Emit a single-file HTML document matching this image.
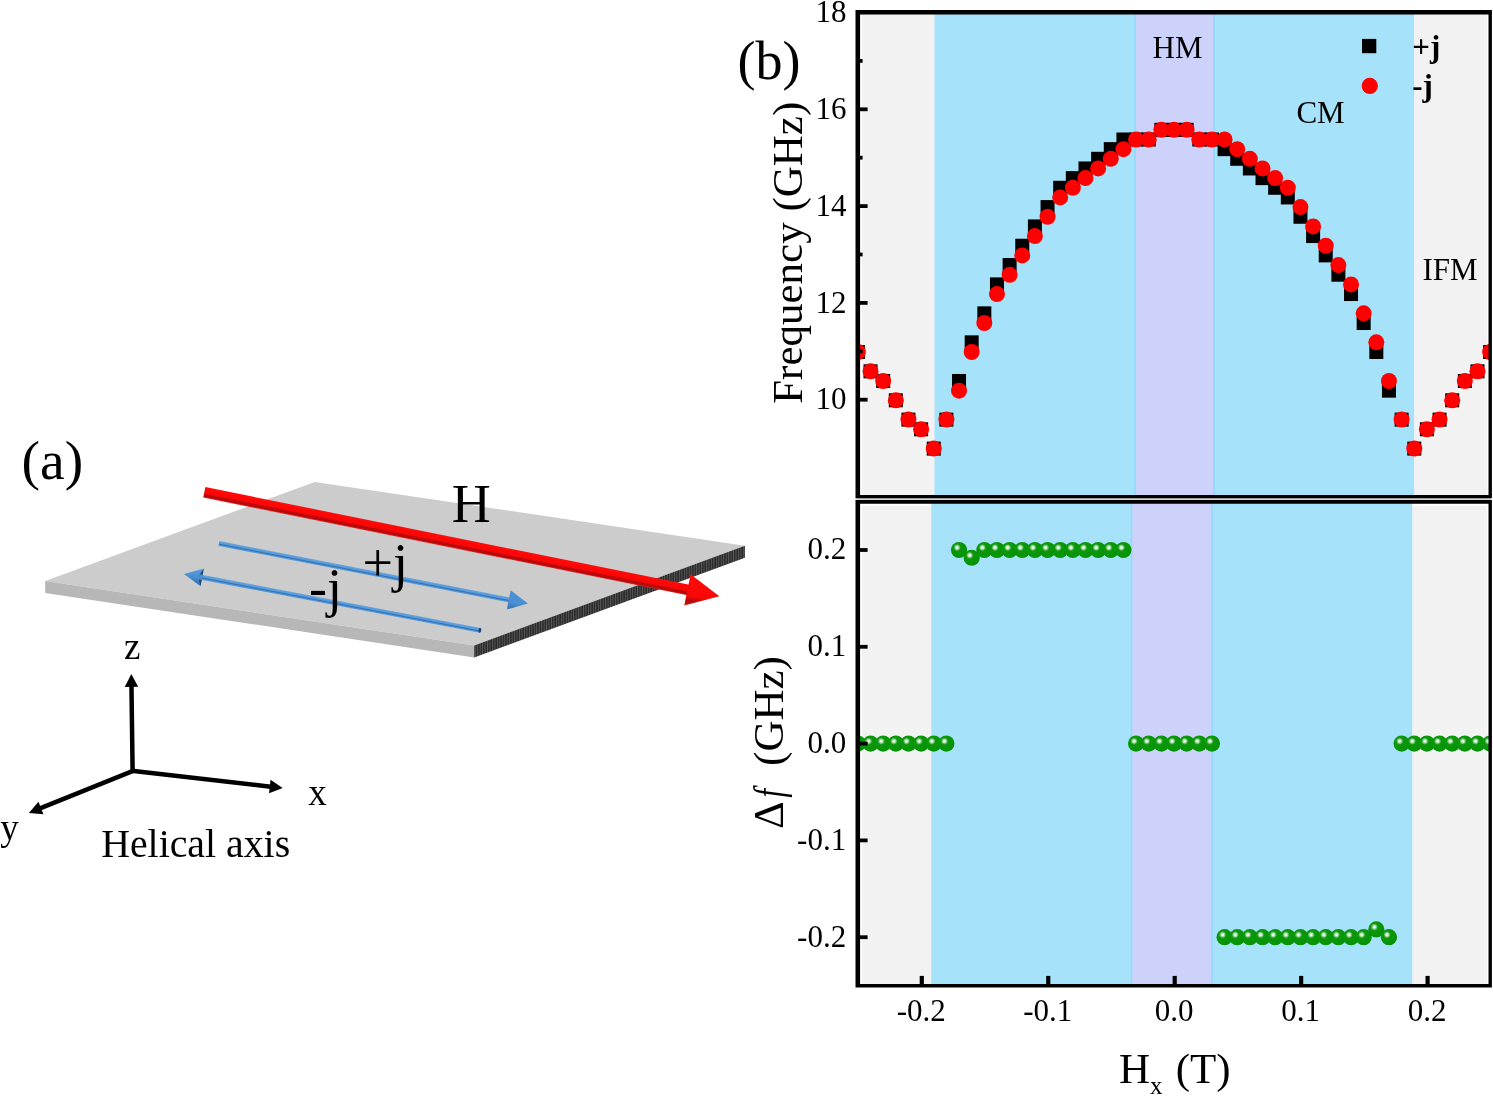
<!DOCTYPE html>
<html lang="en"><head><meta charset="utf-8"><title>Figure</title>
<style>html,body{margin:0;padding:0;background:#fff;}svg{display:block;}text{font-family:"Liberation Serif","Times New Roman",serif;fill:#000;}</style>
</head><body>
<svg width="1493" height="1096" viewBox="0 0 1493 1096">
<defs>
<radialGradient id="gs" cx="0.38" cy="0.35" r="0.62" fx="0.38" fy="0.35"><stop offset="0" stop-color="#ffffff"/><stop offset="0.09" stop-color="#eaf7ea"/><stop offset="0.36" stop-color="#0b980b"/><stop offset="1" stop-color="#069206"/></radialGradient>
<pattern id="stripe" width="2.46" height="20" patternUnits="userSpaceOnUse"><rect width="2.46" height="20" fill="#2a2a2a"/><rect x="0" width="0.95" height="20" fill="#585858"/></pattern>
<linearGradient id="redsh" x1="0" y1="0" x2="0" y2="1"><stop offset="0" stop-color="#ff0a0a"/><stop offset="0.55" stop-color="#ff0505"/><stop offset="0.72" stop-color="#b80c0c"/><stop offset="0.86" stop-color="#b00a0a"/><stop offset="1" stop-color="#f01c1c"/></linearGradient>
<linearGradient id="redhd" x1="0" y1="0" x2="0" y2="1"><stop offset="0" stop-color="#ff0a0a"/><stop offset="0.66" stop-color="#f80808"/><stop offset="0.82" stop-color="#b40c0c"/><stop offset="0.93" stop-color="#c81010"/><stop offset="1" stop-color="#ff1414"/></linearGradient>
<linearGradient id="bluesh" x1="0" y1="0" x2="0" y2="1"><stop offset="0" stop-color="#66a6e0"/><stop offset="0.42" stop-color="#5699d8"/><stop offset="0.62" stop-color="#3471b2"/><stop offset="0.8" stop-color="#4d91d3"/><stop offset="1" stop-color="#5fa1dc"/></linearGradient>
<linearGradient id="bluehd" x1="0" y1="0" x2="0" y2="1"><stop offset="0" stop-color="#4a8fd1"/><stop offset="0.6" stop-color="#4a90d2"/><stop offset="0.85" stop-color="#3877ba"/><stop offset="1" stop-color="#4a8cd0"/></linearGradient>
<linearGradient id="bluesh2" x1="0" y1="1" x2="0" y2="0"><stop offset="0" stop-color="#66a6e0"/><stop offset="0.42" stop-color="#5699d8"/><stop offset="0.62" stop-color="#3471b2"/><stop offset="0.8" stop-color="#4d91d3"/><stop offset="1" stop-color="#5fa1dc"/></linearGradient>
<linearGradient id="bluehd2" x1="0" y1="1" x2="0" y2="0"><stop offset="0" stop-color="#5aa0e0"/><stop offset="0.55" stop-color="#4a90d2"/><stop offset="0.85" stop-color="#3877ba"/><stop offset="1" stop-color="#3f7fc2"/></linearGradient>
<clipPath id="c1"><rect x="857.8" y="12.3" width="632.6000000000001" height="484.4"/></clipPath>
<clipPath id="c2"><rect x="857.8" y="502.6" width="632.6000000000001" height="483.1"/></clipPath>
</defs>
<rect width="1493" height="1096" fill="#ffffff"/>
<g id="schematic">
<polygon points="45.2,581.1 314.8,481.9 744.9,545.7 474.2,645.4" fill="#cccccc"/>
<polygon points="45.2,581.1 474.2,645.4 474.2,657.4 45.2,593.0" fill="#b7b7b7"/>
<polygon points="474.2,645.4 744.9,545.7 744.9,557.7 474.2,657.4" fill="url(#stripe)"/>
<g transform="translate(218.9,543.5) rotate(11.007)"><rect x="0" y="-2.5" width="296.29" height="5.0" fill="url(#bluesh)"/><polygon points="295.29,-9.9 314.79,0 295.29,9.9" fill="url(#bluehd)"/></g>
<g transform="translate(480.2,630.4) rotate(-169.201)"><rect x="0" y="-2.5" width="284.04" height="5.0" fill="url(#bluesh2)"/><polygon points="283.04,-8.95 301.54,0 283.04,8.95" fill="url(#bluehd2)"/><ellipse cx="0.3" cy="0" rx="1.4" ry="2.5" fill="#1d4470"/><path d="M283.04,-8.9 Q289.04,0 283.04,8.9 Z" fill="#1f4872"/><rect x="282.54" y="-2.5" width="3.6" height="5" fill="#4a8fd1"/></g>
<g transform="translate(204.3,492.3) rotate(11.417)"><rect x="0" y="-5.3" width="493.90" height="10.6" fill="url(#redsh)"/><polygon points="492.90,-16.0 525.40,0 492.90,16.0" fill="url(#redhd)"/></g>
<text x="21.6" y="478.9" font-size="55.5">(a)</text>
<text x="451.8" y="522.2" font-size="54">H</text>
<text x="362.6" y="581" font-size="54">+j</text>
<text x="309" y="606.3" font-size="54">-j</text>
<g transform="translate(132.6,771.0) rotate(-90.767)"><rect x="-1" y="-2.25" width="86.11" height="4.5" fill="#000"/><polygon points="84.11,-6.7 97.11,0 84.11,6.7" fill="#000"/></g>
<g transform="translate(132.6,770.9) rotate(6.499)"><rect x="-1" y="-2.25" width="140.07" height="4.5" fill="#000"/><polygon points="138.07,-6.7 151.07,0 138.07,6.7" fill="#000"/></g>
<g transform="translate(132.8,771.0) rotate(158.037)"><rect x="-1" y="-2.25" width="101.03" height="4.5" fill="#000"/><polygon points="99.03,-6.7 112.03,0 99.03,6.7" fill="#000"/></g>
<text x="124" y="658.6" font-size="37">z</text>
<text x="308.2" y="804.5" font-size="37">x</text>
<text x="0.3" y="839.7" font-size="37">y</text>
<text x="101.2" y="857" font-size="39.8">Helical axis</text>
</g>
<g id="panel-top">
<rect x="862" y="12.3" width="625" height="484.4" fill="#f2f2f2"/>
<rect x="934.5" y="12.3" width="479.5999999999999" height="484.4" fill="#a6e3fa"/>
<rect x="1134.2" y="12.3" width="80.79999999999991" height="484.4" fill="#93d9fb"/>
<rect x="1135.7" y="12.3" width="77.59999999999991" height="484.4" fill="#cdd2fb"/>
</g>
<g id="panel-bottom">
<rect x="862" y="506.0" width="625" height="479.70000000000005" fill="#f2f2f2"/>
<rect x="931.3" y="502.6" width="480.9000000000001" height="483.1" fill="#a6e3fa"/>
<rect x="1130.8" y="502.6" width="82.30000000000014" height="483.1" fill="#93d9fb"/>
<rect x="1132.3" y="502.6" width="79.10000000000014" height="483.1" fill="#cdd2fb"/>
</g>
<g id="pts-top" clip-path="url(#c1)">
<rect x="850.88" y="345.00" width="14" height="14" fill="#000"/>
<rect x="863.52" y="364.32" width="14" height="14" fill="#000"/>
<rect x="876.16" y="373.98" width="14" height="14" fill="#000"/>
<rect x="888.81" y="393.30" width="14" height="14" fill="#000"/>
<rect x="901.45" y="412.62" width="14" height="14" fill="#000"/>
<rect x="914.10" y="422.28" width="14" height="14" fill="#000"/>
<rect x="926.75" y="441.60" width="14" height="14" fill="#000"/>
<rect x="939.39" y="412.62" width="14" height="14" fill="#000"/>
<rect x="952.03" y="373.98" width="14" height="14" fill="#000"/>
<rect x="964.68" y="335.34" width="14" height="14" fill="#000"/>
<rect x="977.33" y="306.36" width="14" height="14" fill="#000"/>
<rect x="989.97" y="277.38" width="14" height="14" fill="#000"/>
<rect x="1002.62" y="258.06" width="14" height="14" fill="#000"/>
<rect x="1015.26" y="238.74" width="14" height="14" fill="#000"/>
<rect x="1027.90" y="219.42" width="14" height="14" fill="#000"/>
<rect x="1040.55" y="200.10" width="14" height="14" fill="#000"/>
<rect x="1053.19" y="180.78" width="14" height="14" fill="#000"/>
<rect x="1065.84" y="171.12" width="14" height="14" fill="#000"/>
<rect x="1078.48" y="161.46" width="14" height="14" fill="#000"/>
<rect x="1091.13" y="151.80" width="14" height="14" fill="#000"/>
<rect x="1103.78" y="142.14" width="14" height="14" fill="#000"/>
<rect x="1116.42" y="132.48" width="14" height="14" fill="#000"/>
<rect x="1129.07" y="132.48" width="14" height="14" fill="#000"/>
<rect x="1141.71" y="132.48" width="14" height="14" fill="#000"/>
<rect x="1154.36" y="122.82" width="14" height="14" fill="#000"/>
<rect x="1167.00" y="122.82" width="14" height="14" fill="#000"/>
<rect x="1179.64" y="122.82" width="14" height="14" fill="#000"/>
<rect x="1192.29" y="132.48" width="14" height="14" fill="#000"/>
<rect x="1204.93" y="132.48" width="14" height="14" fill="#000"/>
<rect x="1217.58" y="142.14" width="14" height="14" fill="#000"/>
<rect x="1230.22" y="151.80" width="14" height="14" fill="#000"/>
<rect x="1242.87" y="161.46" width="14" height="14" fill="#000"/>
<rect x="1255.52" y="171.12" width="14" height="14" fill="#000"/>
<rect x="1268.16" y="180.78" width="14" height="14" fill="#000"/>
<rect x="1280.81" y="190.44" width="14" height="14" fill="#000"/>
<rect x="1293.45" y="209.76" width="14" height="14" fill="#000"/>
<rect x="1306.10" y="229.08" width="14" height="14" fill="#000"/>
<rect x="1318.74" y="248.40" width="14" height="14" fill="#000"/>
<rect x="1331.38" y="267.72" width="14" height="14" fill="#000"/>
<rect x="1344.03" y="287.04" width="14" height="14" fill="#000"/>
<rect x="1356.67" y="316.02" width="14" height="14" fill="#000"/>
<rect x="1369.32" y="345.00" width="14" height="14" fill="#000"/>
<rect x="1381.96" y="383.64" width="14" height="14" fill="#000"/>
<rect x="1394.61" y="412.62" width="14" height="14" fill="#000"/>
<rect x="1407.26" y="441.60" width="14" height="14" fill="#000"/>
<rect x="1419.90" y="422.28" width="14" height="14" fill="#000"/>
<rect x="1432.55" y="412.62" width="14" height="14" fill="#000"/>
<rect x="1445.19" y="393.30" width="14" height="14" fill="#000"/>
<rect x="1457.84" y="373.98" width="14" height="14" fill="#000"/>
<rect x="1470.48" y="364.32" width="14" height="14" fill="#000"/>
<rect x="1483.12" y="345.00" width="14" height="14" fill="#000"/>
<circle cx="857.88" cy="352.00" r="8" fill="#ff0000"/>
<circle cx="870.52" cy="371.32" r="8" fill="#ff0000"/>
<circle cx="883.16" cy="380.98" r="8" fill="#ff0000"/>
<circle cx="895.81" cy="400.30" r="8" fill="#ff0000"/>
<circle cx="908.45" cy="419.62" r="8" fill="#ff0000"/>
<circle cx="921.10" cy="429.28" r="8" fill="#ff0000"/>
<circle cx="933.75" cy="448.60" r="8" fill="#ff0000"/>
<circle cx="946.39" cy="419.62" r="8" fill="#ff0000"/>
<circle cx="959.03" cy="390.64" r="8" fill="#ff0000"/>
<circle cx="971.68" cy="352.00" r="8" fill="#ff0000"/>
<circle cx="984.33" cy="323.02" r="8" fill="#ff0000"/>
<circle cx="996.97" cy="294.04" r="8" fill="#ff0000"/>
<circle cx="1009.62" cy="274.72" r="8" fill="#ff0000"/>
<circle cx="1022.26" cy="255.40" r="8" fill="#ff0000"/>
<circle cx="1034.90" cy="236.08" r="8" fill="#ff0000"/>
<circle cx="1047.55" cy="216.76" r="8" fill="#ff0000"/>
<circle cx="1060.19" cy="197.44" r="8" fill="#ff0000"/>
<circle cx="1072.84" cy="187.78" r="8" fill="#ff0000"/>
<circle cx="1085.48" cy="178.12" r="8" fill="#ff0000"/>
<circle cx="1098.13" cy="168.46" r="8" fill="#ff0000"/>
<circle cx="1110.78" cy="158.80" r="8" fill="#ff0000"/>
<circle cx="1123.42" cy="149.14" r="8" fill="#ff0000"/>
<circle cx="1136.07" cy="139.48" r="8" fill="#ff0000"/>
<circle cx="1148.71" cy="139.48" r="8" fill="#ff0000"/>
<circle cx="1161.36" cy="129.82" r="8" fill="#ff0000"/>
<circle cx="1174.00" cy="129.82" r="8" fill="#ff0000"/>
<circle cx="1186.64" cy="129.82" r="8" fill="#ff0000"/>
<circle cx="1199.29" cy="139.48" r="8" fill="#ff0000"/>
<circle cx="1211.93" cy="139.48" r="8" fill="#ff0000"/>
<circle cx="1224.58" cy="139.48" r="8" fill="#ff0000"/>
<circle cx="1237.22" cy="149.14" r="8" fill="#ff0000"/>
<circle cx="1249.87" cy="158.80" r="8" fill="#ff0000"/>
<circle cx="1262.52" cy="168.46" r="8" fill="#ff0000"/>
<circle cx="1275.16" cy="178.12" r="8" fill="#ff0000"/>
<circle cx="1287.81" cy="187.78" r="8" fill="#ff0000"/>
<circle cx="1300.45" cy="207.10" r="8" fill="#ff0000"/>
<circle cx="1313.10" cy="226.42" r="8" fill="#ff0000"/>
<circle cx="1325.74" cy="245.74" r="8" fill="#ff0000"/>
<circle cx="1338.38" cy="265.06" r="8" fill="#ff0000"/>
<circle cx="1351.03" cy="284.38" r="8" fill="#ff0000"/>
<circle cx="1363.67" cy="313.36" r="8" fill="#ff0000"/>
<circle cx="1376.32" cy="342.34" r="8" fill="#ff0000"/>
<circle cx="1388.96" cy="380.98" r="8" fill="#ff0000"/>
<circle cx="1401.61" cy="419.62" r="8" fill="#ff0000"/>
<circle cx="1414.26" cy="448.60" r="8" fill="#ff0000"/>
<circle cx="1426.90" cy="429.28" r="8" fill="#ff0000"/>
<circle cx="1439.55" cy="419.62" r="8" fill="#ff0000"/>
<circle cx="1452.19" cy="400.30" r="8" fill="#ff0000"/>
<circle cx="1464.84" cy="380.98" r="8" fill="#ff0000"/>
<circle cx="1477.48" cy="371.32" r="8" fill="#ff0000"/>
<circle cx="1490.12" cy="352.00" r="8" fill="#ff0000"/>
</g>
<g id="pts-bottom" clip-path="url(#c2)">
<circle cx="857.88" cy="743.60" r="8.1" fill="url(#gs)"/>
<circle cx="870.52" cy="743.60" r="8.1" fill="url(#gs)"/>
<circle cx="883.16" cy="743.60" r="8.1" fill="url(#gs)"/>
<circle cx="895.81" cy="743.60" r="8.1" fill="url(#gs)"/>
<circle cx="908.45" cy="743.60" r="8.1" fill="url(#gs)"/>
<circle cx="921.10" cy="743.60" r="8.1" fill="url(#gs)"/>
<circle cx="933.75" cy="743.60" r="8.1" fill="url(#gs)"/>
<circle cx="946.39" cy="743.60" r="8.1" fill="url(#gs)"/>
<circle cx="959.03" cy="550.00" r="8.1" fill="url(#gs)"/>
<circle cx="971.68" cy="557.74" r="8.1" fill="url(#gs)"/>
<circle cx="984.33" cy="550.00" r="8.1" fill="url(#gs)"/>
<circle cx="996.97" cy="550.00" r="8.1" fill="url(#gs)"/>
<circle cx="1009.62" cy="550.00" r="8.1" fill="url(#gs)"/>
<circle cx="1022.26" cy="550.00" r="8.1" fill="url(#gs)"/>
<circle cx="1034.90" cy="550.00" r="8.1" fill="url(#gs)"/>
<circle cx="1047.55" cy="550.00" r="8.1" fill="url(#gs)"/>
<circle cx="1060.19" cy="550.00" r="8.1" fill="url(#gs)"/>
<circle cx="1072.84" cy="550.00" r="8.1" fill="url(#gs)"/>
<circle cx="1085.48" cy="550.00" r="8.1" fill="url(#gs)"/>
<circle cx="1098.13" cy="550.00" r="8.1" fill="url(#gs)"/>
<circle cx="1110.78" cy="550.00" r="8.1" fill="url(#gs)"/>
<circle cx="1123.42" cy="550.00" r="8.1" fill="url(#gs)"/>
<circle cx="1136.07" cy="743.60" r="8.1" fill="url(#gs)"/>
<circle cx="1148.71" cy="743.60" r="8.1" fill="url(#gs)"/>
<circle cx="1161.36" cy="743.60" r="8.1" fill="url(#gs)"/>
<circle cx="1174.00" cy="743.60" r="8.1" fill="url(#gs)"/>
<circle cx="1186.64" cy="743.60" r="8.1" fill="url(#gs)"/>
<circle cx="1199.29" cy="743.60" r="8.1" fill="url(#gs)"/>
<circle cx="1211.93" cy="743.60" r="8.1" fill="url(#gs)"/>
<circle cx="1224.58" cy="937.20" r="8.1" fill="url(#gs)"/>
<circle cx="1237.22" cy="937.20" r="8.1" fill="url(#gs)"/>
<circle cx="1249.87" cy="937.20" r="8.1" fill="url(#gs)"/>
<circle cx="1262.52" cy="937.20" r="8.1" fill="url(#gs)"/>
<circle cx="1275.16" cy="937.20" r="8.1" fill="url(#gs)"/>
<circle cx="1287.81" cy="937.20" r="8.1" fill="url(#gs)"/>
<circle cx="1300.45" cy="937.20" r="8.1" fill="url(#gs)"/>
<circle cx="1313.10" cy="937.20" r="8.1" fill="url(#gs)"/>
<circle cx="1325.74" cy="937.20" r="8.1" fill="url(#gs)"/>
<circle cx="1338.38" cy="937.20" r="8.1" fill="url(#gs)"/>
<circle cx="1351.03" cy="937.20" r="8.1" fill="url(#gs)"/>
<circle cx="1363.67" cy="937.20" r="8.1" fill="url(#gs)"/>
<circle cx="1376.32" cy="929.46" r="8.1" fill="url(#gs)"/>
<circle cx="1388.96" cy="937.20" r="8.1" fill="url(#gs)"/>
<circle cx="1401.61" cy="743.60" r="8.1" fill="url(#gs)"/>
<circle cx="1414.26" cy="743.60" r="8.1" fill="url(#gs)"/>
<circle cx="1426.90" cy="743.60" r="8.1" fill="url(#gs)"/>
<circle cx="1439.55" cy="743.60" r="8.1" fill="url(#gs)"/>
<circle cx="1452.19" cy="743.60" r="8.1" fill="url(#gs)"/>
<circle cx="1464.84" cy="743.60" r="8.1" fill="url(#gs)"/>
<circle cx="1477.48" cy="743.60" r="8.1" fill="url(#gs)"/>
<circle cx="1490.12" cy="743.60" r="8.1" fill="url(#gs)"/>
</g>
<g id="legend">
<rect x="1362" y="38.9" width="14.3" height="14.3" fill="#000"/>
<circle cx="1369.8" cy="85.9" r="8.1" fill="#ff0000"/>
<text x="1412.3" y="57" font-size="31" font-weight="bold">+j</text>
<text x="1412.2" y="96" font-size="31" font-weight="bold">-j</text>
<text x="1152.5" y="57.7" font-size="31">HM</text>
<text x="1296.4" y="123.3" font-size="31">CM</text>
<text x="1422.4" y="280.3" font-size="31">IFM</text>
</g>
<g id="axes" stroke="#000" fill="none" stroke-linecap="butt">
<rect x="856.5" y="498" width="634.5" height="2.2" fill="#d2d2d2" stroke="none"/>
<path fill="#000" stroke="none" fill-rule="evenodd" d="M855.5,10.05H1491.9V498.2H855.5Z M860.1,14.45H1488.5V494.9H860.1Z"/>
<path fill="#000" stroke="none" fill-rule="evenodd" d="M855.5,500.0H1491.9V987.6H855.5Z M860.1,503.7H1488.5V984.1H860.1Z"/>
<line x1="857.8" x2="867.5999999999999" y1="109.30" y2="109.30" stroke-width="3.8"/>
<line x1="857.8" x2="867.5999999999999" y1="206.10" y2="206.10" stroke-width="3.8"/>
<line x1="857.8" x2="867.5999999999999" y1="302.90" y2="302.90" stroke-width="3.8"/>
<line x1="857.8" x2="867.5999999999999" y1="399.70" y2="399.70" stroke-width="3.8"/>
<line x1="857.8" x2="862.5999999999999" y1="60.90" y2="60.90" stroke-width="3.8"/>
<line x1="857.8" x2="862.5999999999999" y1="157.70" y2="157.70" stroke-width="3.8"/>
<line x1="857.8" x2="862.5999999999999" y1="254.50" y2="254.50" stroke-width="3.8"/>
<line x1="857.8" x2="862.5999999999999" y1="351.30" y2="351.30" stroke-width="3.8"/>
<line x1="857.8" x2="867.5999999999999" y1="550.00" y2="550.00" stroke-width="3.8"/>
<line x1="857.8" x2="867.5999999999999" y1="646.80" y2="646.80" stroke-width="3.8"/>
<line x1="857.8" x2="867.5999999999999" y1="743.60" y2="743.60" stroke-width="3.8"/>
<line x1="857.8" x2="867.5999999999999" y1="840.40" y2="840.40" stroke-width="3.8"/>
<line x1="857.8" x2="867.5999999999999" y1="937.20" y2="937.20" stroke-width="3.8"/>
<line x1="921.80" x2="921.80" y1="985.7" y2="975.9000000000001" stroke-width="4.2"/>
<line x1="1048.25" x2="1048.25" y1="985.7" y2="975.9000000000001" stroke-width="4.2"/>
<line x1="1174.70" x2="1174.70" y1="985.7" y2="975.9000000000001" stroke-width="4.2"/>
<line x1="1301.15" x2="1301.15" y1="985.7" y2="975.9000000000001" stroke-width="4.2"/>
<line x1="1427.60" x2="1427.60" y1="985.7" y2="975.9000000000001" stroke-width="4.2"/>
</g>
<g id="ticklabels" font-size="31">
<text x="846.4" y="21.6" text-anchor="end">18</text>
<text x="846.4" y="118.9" text-anchor="end">16</text>
<text x="846.4" y="215.7" text-anchor="end">14</text>
<text x="846.4" y="312.5" text-anchor="end">12</text>
<text x="846.4" y="409.3" text-anchor="end">10</text>
<text x="846.2" y="559.4" text-anchor="end">0.2</text>
<text x="846.2" y="656.2" text-anchor="end">0.1</text>
<text x="846.2" y="753.0" text-anchor="end">0.0</text>
<text x="846.2" y="849.8" text-anchor="end">-0.1</text>
<text x="846.2" y="946.6" text-anchor="end">-0.2</text>
<text x="921.2" y="1021" text-anchor="middle">-0.2</text>
<text x="1047.7" y="1021" text-anchor="middle">-0.1</text>
<text x="1174.1" y="1021" text-anchor="middle">0.0</text>
<text x="1300.6" y="1021" text-anchor="middle">0.1</text>
<text x="1427.0" y="1021" text-anchor="middle">0.2</text>
</g>
<g id="titles" font-size="43">
<text transform="translate(801.5,252.8) rotate(-90)" text-anchor="middle">Frequency (GHz)</text>
<text transform="translate(783,829.1) rotate(-90)">Δ</text>
<text transform="translate(783,797.5) rotate(-90) scale(0.72,1)" font-style="italic">f</text>
<text transform="translate(783,765.9) rotate(-90)">(GHz)</text>
<text x="1119" y="1082.8">H<tspan font-size="25" dy="11.5">x</tspan><tspan dy="-11.5" dx="2.4"> (T)</tspan></text>
<text x="737.5" y="78.8" font-size="54">(b)</text>
</g>
</svg>
</body></html>
